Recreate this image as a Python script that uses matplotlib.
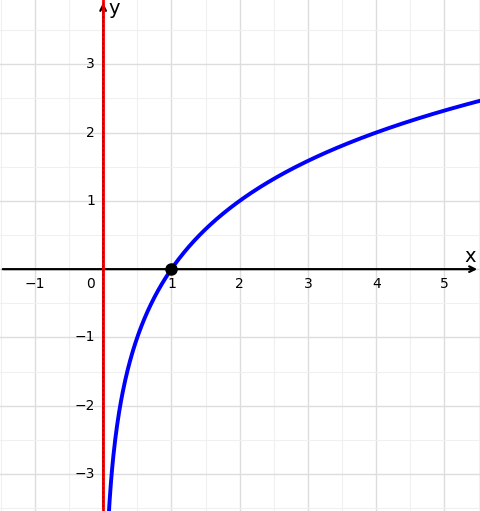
import numpy as np
import matplotlib.pyplot as plt
from matplotlib.ticker import MultipleLocator

# plotted function y = log2(x) and its marked point
x_range = (-1.51, 5.52)
y_range = (-3.54, 3.94)
x_ticks = [-1, 1, 2, 3, 4, 5]
y_ticks = [-3, -2, -1, 1, 2, 3]
point = (1, 0)

fig = plt.figure(figsize=(4.8, 5.11), dpi=100)
ax = fig.add_axes([0, 0, 1, 1])
ax.set_xlim(*x_range)
ax.set_ylim(*y_range)

ax.xaxis.set_major_locator(MultipleLocator(1))
ax.yaxis.set_major_locator(MultipleLocator(1))
ax.xaxis.set_minor_locator(MultipleLocator(0.5))
ax.yaxis.set_minor_locator(MultipleLocator(0.5))
ax.grid(which='major', color='#dddddd', lw=1)
ax.grid(which='minor', color='#f0f0f0', lw=0.8)
ax.tick_params(which='both', length=0, labelbottom=False, labelleft=False)
for s in ax.spines.values():
    s.set_visible(False)

# axes with arrows
ax.annotate('', xy=(x_range[1], 0), xytext=(x_range[0], 0),
            arrowprops=dict(arrowstyle='->', lw=1.6, color='black'))
ax.annotate('', xy=(0, y_range[1]), xytext=(0, y_range[0]),
            arrowprops=dict(arrowstyle='->', lw=1.6, color='black'))
ax.text(5.38, 0.05, 'x', fontsize=14, ha='center', va='bottom')
ax.text(0.08, 3.82, 'y', fontsize=14, ha='left', va='center')

# asymptote
ax.axvline(0, color='red', lw=2, zorder=3)
ax.axvline(0, color='#661111', lw=0.8, ls=(0, (2, 2)), zorder=4)

for t in x_ticks:
    ax.text(t, -0.12, str(t).replace('-', '\u2212'), ha='center', va='top', fontsize=10)
ax.text(-0.12, -0.12, '0', ha='right', va='top', fontsize=10)
for t in y_ticks:
    ax.text(-0.12, t, str(t).replace('-', '\u2212'), ha='right', va='center', fontsize=10)

xs = np.linspace(0.06, x_range[1], 600)
ax.plot(xs, np.log2(xs), color='#0000ff', lw=2.8, zorder=5)
ax.plot(*point, 'o', color='black', ms=8, zorder=6)

fig.savefig('out.png', dpi=100)
